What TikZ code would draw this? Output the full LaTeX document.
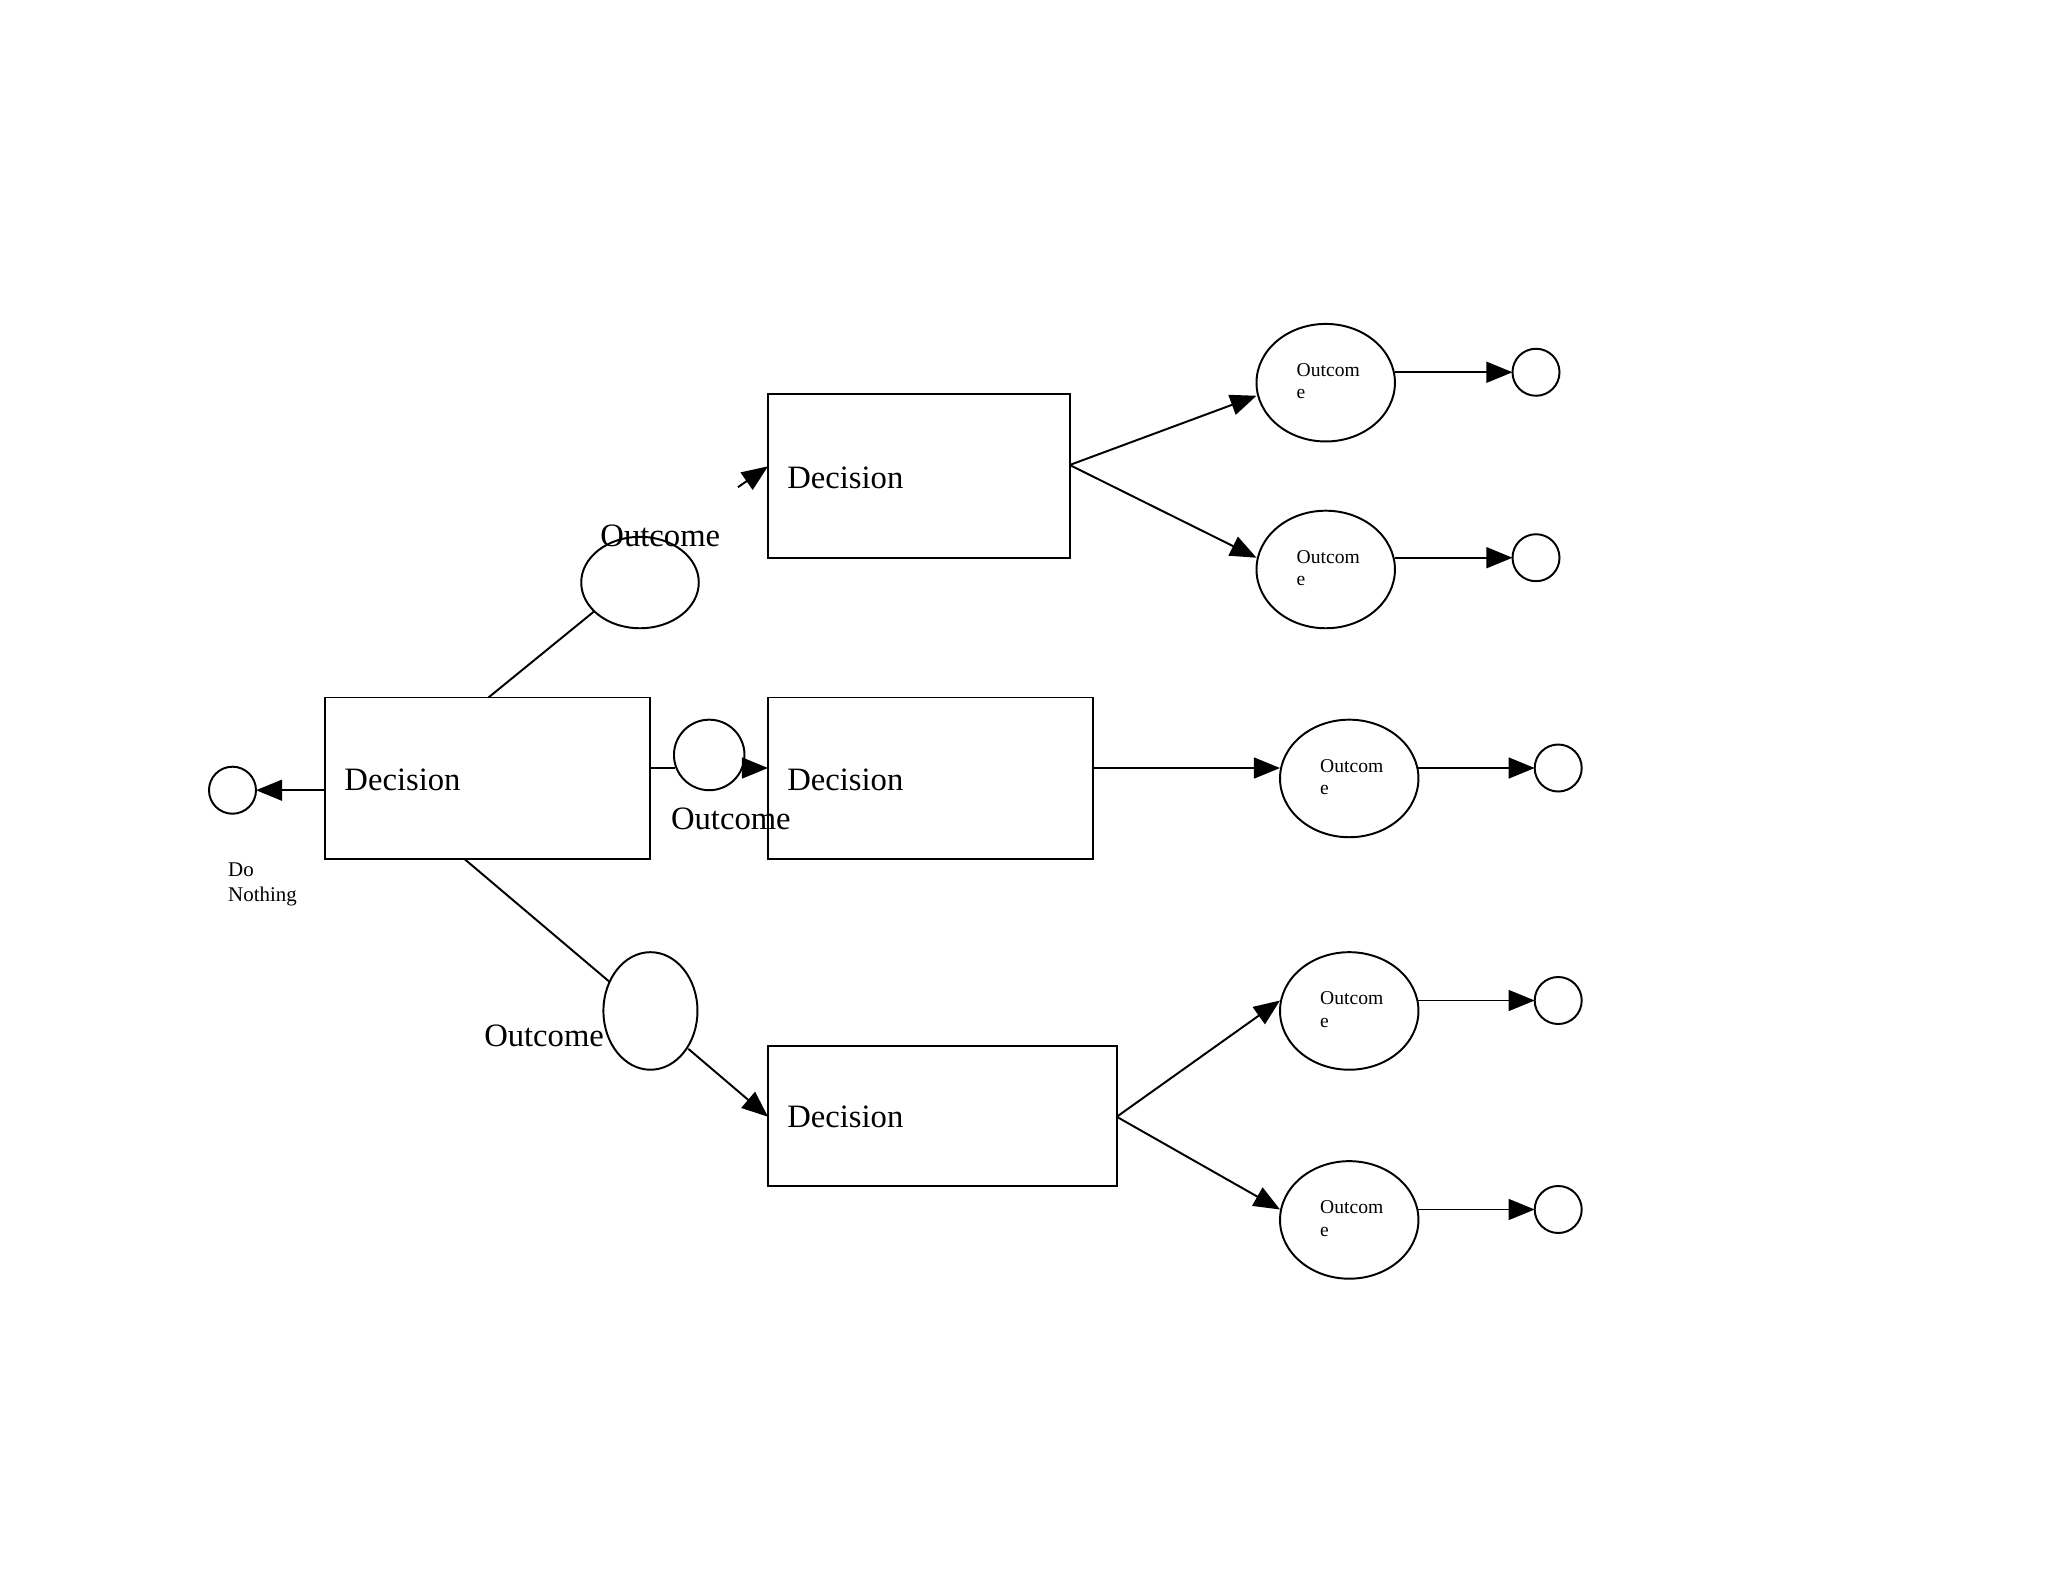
\documentclass[tikz,border=0pt]{standalone}
\usepackage{fontspec}
\setmainfont{Liberation Serif}
\usetikzlibrary{arrows.meta}
\begin{document}
\begin{tikzpicture}[x=0.5pt,y=-0.5pt,line width=0.75pt,
  arr/.style={-{Triangle[length=10pt,width=8pt]}},
  big/.style={font=\fontsize{12.5}{15}\selectfont,anchor=west,inner sep=0},
  sm/.style={font=\fontsize{7.5}{8.5}\selectfont,anchor=west,align=left,inner sep=0},
  ]
\useasboundingbox (0,0) rectangle (1568,1211);
% do nothing
\draw (178,605) circle (18); \coordinate (dn) at (196,605);
\node[font=\fontsize{8}{9.5}\selectfont,anchor=north west,align=left,inner sep=0] (dnl) at (174,660) {Do\\Nothing};
% boxes
\draw (249,534) rectangle (498,658); \coordinate (b0w) at (249,605);
\node[big] (d0) at (263,597) {Decision};
\draw (588,302) rectangle (819,427);
\node[big] (d1) at (602,366) {Decision};
\draw (588,534) rectangle (837,658);
\node[big] (d2) at (602,597) {Decision};
\draw (588,801) rectangle (855,908);
\node[big] (d3) at (602,855) {Decision};
% first-level outcomes
\draw (490,446) ellipse (45 and 35);
\draw (543,578) circle (27);
\draw (498,774) ellipse (36 and 45);
\node[big] (o1) at (459,410) {Outcome};
\node[big] (o2) at (513,627) {Outcome};
\node[big] (o3) at (370,793) {Outcome};
\coordinate (b0n) at (374,534); \coordinate (e0) at (455,468);
\coordinate (a1s) at (565,373); \coordinate (a1e) at (588,357);
\coordinate (b0e) at (498,588); \coordinate (c0w) at (517,588);
\coordinate (c0e) at (570,588); \coordinate (b2w) at (588,588);
\coordinate (b0s) at (356,658); \coordinate (e2n) at (467,752);
\coordinate (e2s) at (527,803); \coordinate (b3w) at (588,855);
\draw[arr] (b0w) -- (dn);
\draw (b0n) -- (e0);
\draw[arr] (a1s) -- (a1e);
\draw (b0e) -- (c0w);
\draw[arr] (c0e) -- (b2w);
\draw (b0s) -- (e2n);
\draw[arr] (e2s) -- (b3w);
% second level
\foreach \cx/\cy in {1015/293,1015/436,1033/596,1033/774,1033/934}{
  \draw (\cx,\cy) ellipse (53 and 45);
  \node[sm] at (\cx-23,\cy-1) {Outcom\\e};
}
\coordinate (p1) at (819,356); \coordinate (p2) at (837,588); \coordinate (p3) at (855,855);
\draw[arr] (p1) -- (962,303);
\draw[arr] (p1) -- (962,427);
\draw[arr] (p2) -- (980,588);
\draw[arr] (p3) -- (980,766);
\draw[arr] (p3) -- (980,926);
\foreach \sx/\y/\cx in {1068/285/1176,1068/427/1176,1086/588/1193,1086/766/1193,1086/926/1193}{
  \draw (\cx,\y) circle (18);
  \draw[arr] (\sx,\y) -- (\cx-18,\y);
}
\end{tikzpicture}
\end{document}
